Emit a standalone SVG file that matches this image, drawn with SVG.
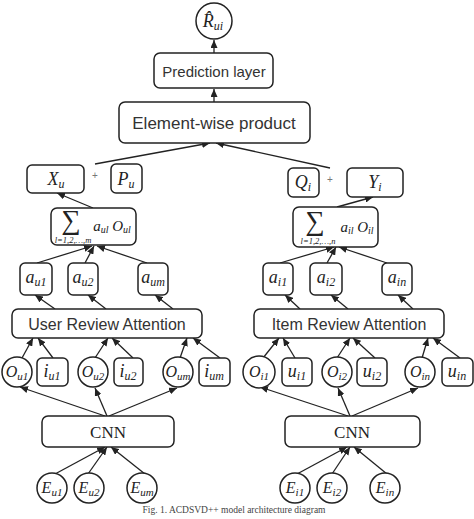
<svg xmlns="http://www.w3.org/2000/svg" width="474" height="519" viewBox="0 0 474 519">
<style>
.box{fill:#fff;stroke:#222;stroke-width:1.5}
.cir{fill:#fff;stroke:#222;stroke-width:1.5}
.ln{stroke:#222;stroke-width:1.3;fill:none;marker-end:url(#ah)}
.sans{font-family:"Liberation Sans",Arial,sans-serif;fill:#333;text-anchor:middle}
.serif{font-family:"Liberation Serif","Times New Roman",serif;fill:#222;text-anchor:middle}
.m{font-family:"Liberation Serif","Times New Roman",serif;font-style:italic;fill:#222;text-anchor:middle}
.big{font-size:18px}
.mid{font-size:16px}
.sub{font-size:12px}
.ssub{font-size:11px}
.plus{font-family:"Liberation Sans",Arial,sans-serif;fill:#777;font-size:10px;text-anchor:middle}
</style>
<defs>
<marker id="ah" markerUnits="userSpaceOnUse" markerWidth="8" markerHeight="7" refX="8" refY="3.5" orient="auto">
<path d="M0,0 L8,3.5 L0,7 z" fill="#222"/>
</marker>
</defs>
<rect width="474" height="519" fill="#fff"/>

<g id="connectors">
<line class="ln" x1="214" y1="53" x2="214" y2="40"/>
<line class="ln" x1="214" y1="102" x2="214" y2="89"/>
<line class="ln" x1="95" y1="164" x2="210" y2="143"/>
<line class="ln" x1="330" y1="168" x2="216" y2="143"/>
<line class="ln" x1="93" y1="208" x2="57" y2="193"/>
<line class="ln" x1="337" y1="207" x2="373" y2="197"/>
<line class="ln" x1="37" y1="263" x2="92" y2="246"/>
<line class="ln" x1="85" y1="263" x2="94" y2="246"/>
<line class="ln" x1="147" y1="263" x2="97" y2="246"/>
<line class="ln" x1="280" y1="263" x2="334" y2="247"/>
<line class="ln" x1="327" y1="263" x2="336" y2="247"/>
<line class="ln" x1="387" y1="263" x2="339" y2="247"/>
<line class="ln" x1="55" y1="309" x2="35" y2="295"/>
<line class="ln" x1="106" y1="309" x2="88" y2="295"/>
<line class="ln" x1="173" y1="309" x2="155" y2="295"/>
<line class="ln" x1="300" y1="309" x2="285" y2="295"/>
<line class="ln" x1="348" y1="309" x2="331" y2="295"/>
<line class="ln" x1="413" y1="309" x2="398" y2="295"/>
<line class="ln" x1="22" y1="358" x2="33" y2="338"/>
<line class="ln" x1="53" y1="358" x2="38" y2="338"/>
<line class="ln" x1="95" y1="358" x2="108" y2="338"/>
<line class="ln" x1="133" y1="358" x2="112" y2="338"/>
<line class="ln" x1="180" y1="358" x2="187" y2="338"/>
<line class="ln" x1="220" y1="358" x2="193" y2="338"/>
<line class="ln" x1="263" y1="358" x2="279" y2="338"/>
<line class="ln" x1="295" y1="358" x2="283" y2="338"/>
<line class="ln" x1="337" y1="358" x2="350" y2="338"/>
<line class="ln" x1="375" y1="358" x2="353" y2="338"/>
<line class="ln" x1="422" y1="358" x2="428" y2="338"/>
<line class="ln" x1="460" y1="358" x2="433" y2="338"/>
<line class="ln" x1="105" y1="416" x2="20" y2="387"/>
<line class="ln" x1="107" y1="416" x2="95" y2="388"/>
<line class="ln" x1="109" y1="416" x2="177" y2="388"/>
<line class="ln" x1="348" y1="416" x2="260" y2="387"/>
<line class="ln" x1="350" y1="416" x2="338" y2="388"/>
<line class="ln" x1="352" y1="416" x2="418" y2="388"/>
<line class="ln" x1="55" y1="474" x2="105" y2="447"/>
<line class="ln" x1="88" y1="474" x2="107" y2="447"/>
<line class="ln" x1="145" y1="474" x2="111" y2="447"/>
<line class="ln" x1="297" y1="474" x2="347" y2="447"/>
<line class="ln" x1="332" y1="474" x2="350" y2="447"/>
<line class="ln" x1="387" y1="474" x2="354" y2="447"/>
</g>

<g id="R_ui"><circle class="cir" cx="214" cy="21" r="18"/><text class="m big" x="213" y="27">R&#770;<tspan class="sub" dy="3">ui</tspan></text></g>
<g id="prediction"><rect class="box" x="154" y="53" width="119" height="35" rx="6"/><text class="sans" x="214" y="77" style="font-size:15px">Prediction layer</text></g>
<g id="element"><rect class="box" x="119" y="102" width="191" height="41" rx="6"/><text class="sans" x="214" y="129" style="font-size:17px">Element-wise product</text></g>

<g id="X_u"><rect class="box" x="27" y="165" width="57" height="28" rx="5"/><text class="m big" x="56" y="185">X<tspan class="sub" dy="3">u</tspan></text></g>
<text class="plus" x="95" y="179">+</text>
<g id="P_u"><rect class="box" x="111" y="164" width="31" height="29" rx="5"/><text class="m big" x="126" y="185">P<tspan class="sub" dy="3">u</tspan></text></g>
<g id="Q_i"><rect class="box" x="288" y="168" width="31" height="29" rx="5"/><text class="m big" x="303" y="188">Q<tspan class="sub" dy="3">i</tspan></text></g>
<text class="plus" x="330" y="183">+</text>
<g id="Y_i"><rect class="box" x="347" y="168" width="56" height="29" rx="5"/><text class="m big" x="375" y="188">Y<tspan class="sub" dy="3">i</tspan></text></g>

<g id="sum_u"><rect class="box" x="51" y="208" width="85" height="37" rx="6"/>
<text class="serif" x="71" y="229" style="font-size:27px">&#8721;</text>
<text class="m" x="73" y="243" style="font-size:8.5px">l=1,2,…,m</text>
<text class="m" x="112" y="231" style="font-size:15px">a<tspan style="font-size:10px" dy="2">ul</tspan><tspan dy="-2"> O</tspan><tspan style="font-size:10px" dy="2">ul</tspan></text></g>
<g id="sum_i"><rect class="box" x="293" y="207" width="85" height="40" rx="6"/>
<text class="serif" x="315" y="230" style="font-size:27px">&#8721;</text>
<text class="m" x="318" y="244" style="font-size:8.5px">l=1,2,…,n</text>
<text class="m" x="357" y="232" style="font-size:15px">a<tspan style="font-size:10px" dy="2">il</tspan><tspan dy="-2"> O</tspan><tspan style="font-size:10px" dy="2">il</tspan></text></g>

<g id="a_u1"><rect class="box" x="20" y="263" width="32" height="32" rx="5"/><text class="m big" x="36" y="283">a<tspan class="sub" dy="3">u1</tspan></text></g>
<g id="a_u2"><rect class="box" x="68" y="263" width="30" height="32" rx="5"/><text class="m big" x="83" y="283">a<tspan class="sub" dy="3">u2</tspan></text></g>
<g id="a_um"><rect class="box" x="138" y="263" width="30" height="32" rx="5"/><text class="m big" x="153" y="283">a<tspan class="sub" dy="3">um</tspan></text></g>
<g id="a_i1"><rect class="box" x="263" y="263" width="30" height="32" rx="5"/><text class="m big" x="278" y="283">a<tspan class="sub" dy="3">i1</tspan></text></g>
<g id="a_i2"><rect class="box" x="310" y="263" width="32" height="32" rx="5"/><text class="m big" x="326" y="283">a<tspan class="sub" dy="3">i2</tspan></text></g>
<g id="a_in"><rect class="box" x="382" y="263" width="30" height="32" rx="5"/><text class="m big" x="397" y="283">a<tspan class="sub" dy="3">in</tspan></text></g>

<g id="ura"><rect class="box" x="12" y="309" width="190" height="29" rx="6"/><text class="sans" x="107" y="330" style="font-size:16px">User Review Attention</text></g>
<g id="ira"><rect class="box" x="254" y="309" width="190" height="29" rx="6"/><text class="sans" x="349" y="330" style="font-size:16px">Item Review Attention</text></g>

<g id="O_u1"><circle class="cir" cx="17" cy="372" r="15"/><text class="m mid" x="17" y="377">O<tspan class="ssub" dy="3">u1</tspan></text></g>
<g id="i_u1"><rect class="box" x="37" y="358" width="31" height="28" rx="5"/><text class="m big" x="52" y="377">i<tspan class="sub" dy="3">u1</tspan></text></g>
<g id="O_u2"><circle class="cir" cx="93" cy="372" r="15"/><text class="m mid" x="93" y="377">O<tspan class="ssub" dy="3">u2</tspan></text></g>
<g id="i_u2"><rect class="box" x="114" y="358" width="29" height="28" rx="5"/><text class="m big" x="128" y="377">i<tspan class="sub" dy="3">u2</tspan></text></g>
<g id="O_um"><circle class="cir" cx="178" cy="372" r="15"/><text class="m mid" x="178" y="377">O<tspan class="ssub" dy="3">um</tspan></text></g>
<g id="i_um"><rect class="box" x="199" y="358" width="31" height="28" rx="5"/><text class="m big" x="214" y="377">i<tspan class="sub" dy="3">um</tspan></text></g>

<g id="O_i1"><circle class="cir" cx="259" cy="372" r="16"/><text class="m mid" x="259" y="377">O<tspan class="ssub" dy="3">i1</tspan></text></g>
<g id="u_i1"><rect class="box" x="282" y="358" width="30" height="28" rx="5"/><text class="m big" x="297" y="377">u<tspan class="sub" dy="3">i1</tspan></text></g>
<g id="O_i2"><circle class="cir" cx="337" cy="372" r="15"/><text class="m mid" x="337" y="377">O<tspan class="ssub" dy="3">i2</tspan></text></g>
<g id="u_i2"><rect class="box" x="357" y="358" width="30" height="28" rx="5"/><text class="m big" x="372" y="377">u<tspan class="sub" dy="3">i2</tspan></text></g>
<g id="O_in"><circle class="cir" cx="420" cy="372" r="15"/><text class="m mid" x="420" y="377">O<tspan class="ssub" dy="3">in</tspan></text></g>
<g id="u_in"><rect class="box" x="442" y="358" width="31" height="28" rx="5"/><text class="m big" x="457" y="377">u<tspan class="sub" dy="3">in</tspan></text></g>

<g id="cnn_u"><rect class="box" x="42" y="416" width="132" height="31" rx="6"/><text class="serif" x="108" y="438" style="font-size:17px">CNN</text></g>
<g id="cnn_i"><rect class="box" x="285" y="416" width="135" height="31" rx="6"/><text class="serif" x="352" y="438" style="font-size:17px">CNN</text></g>

<g id="E_u1"><circle class="cir" cx="52" cy="488" r="15"/><text class="m mid" x="52" y="493">E<tspan class="ssub" dy="3">u1</tspan></text></g>
<g id="E_u2"><circle class="cir" cx="89" cy="488" r="15"/><text class="m mid" x="89" y="493">E<tspan class="ssub" dy="3">u2</tspan></text></g>
<g id="E_um"><circle class="cir" cx="142" cy="488" r="15"/><text class="m mid" x="142" y="493">E<tspan class="ssub" dy="3">um</tspan></text></g>
<g id="E_i1"><circle class="cir" cx="295" cy="488" r="15"/><text class="m mid" x="295" y="493">E<tspan class="ssub" dy="3">i1</tspan></text></g>
<g id="E_i2"><circle class="cir" cx="332" cy="488" r="15"/><text class="m mid" x="332" y="493">E<tspan class="ssub" dy="3">i2</tspan></text></g>
<g id="E_in"><circle class="cir" cx="385" cy="488" r="15"/><text class="m mid" x="385" y="493">E<tspan class="ssub" dy="3">in</tspan></text></g>

<text class="serif" x="234" y="513" style="font-size:9.5px;fill:#444">Fig. 1. ACDSVD++ model architecture diagram</text>
</svg>
